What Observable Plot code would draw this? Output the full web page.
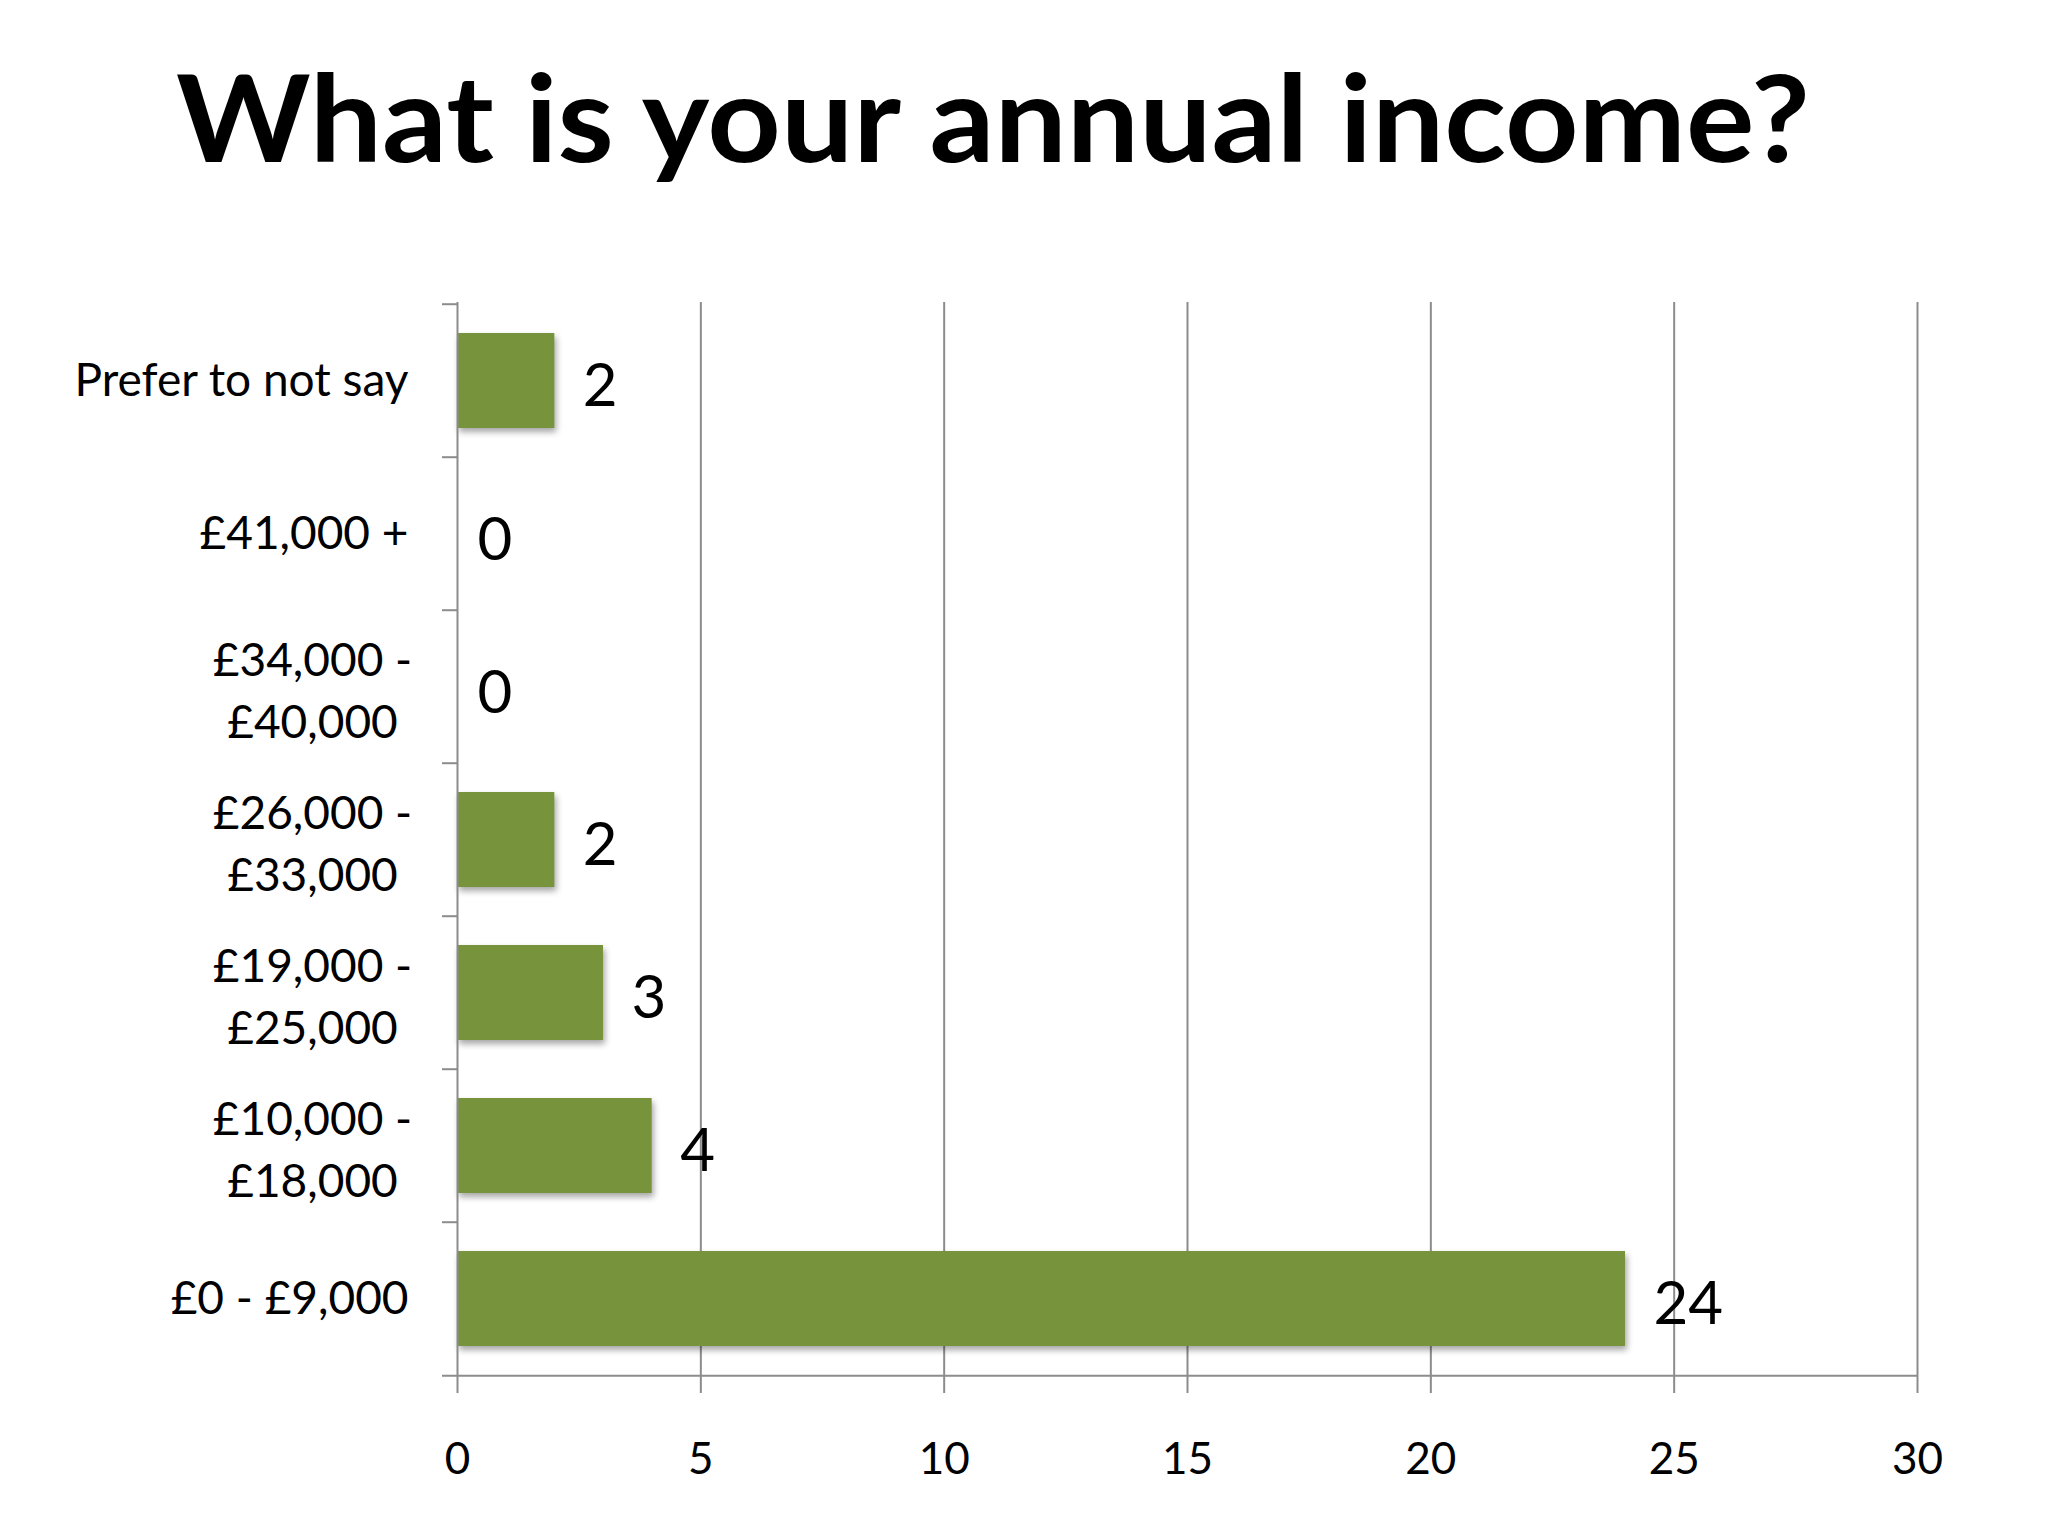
<!DOCTYPE html>
<html>
<head>
<meta charset="utf-8">
<script src="https://cdn.jsdelivr.net/npm/d3@7"></script>
<script src="https://cdn.jsdelivr.net/npm/@observablehq/plot@0.6"></script>
<style>
  html, body { margin: 0; padding: 0; background: #ffffff; }
  body { width: 2048px; height: 1536px; overflow: hidden; position: relative; font-family: Lato, sans-serif; }
  #title { position: absolute; top: 55px; left: 993px; white-space: nowrap;
           font: bold 121px/1 Lato, sans-serif; color: #000; transform-origin: center top; }
  #chart { position: absolute; top: 230px; left: 0; }
</style>
</head>
<body>
<div id="title">What is your annual income?</div>
<div id="chart"></div>
<script>
// ---- data ----
const titleText = "What is your annual income?";
const categories = [
  "Prefer to not say",
  "£41,000 +",
  "£34,000 -\n£40,000",
  "£26,000 -\n£33,000",
  "£19,000 -\n£25,000",
  "£10,000 -\n£18,000",
  "£0 - £9,000"
];
const counts = [2, 0, 0, 2, 3, 4, 24];
const xTicks = [0, 5, 10, 15, 20, 25, 30];
const xDomain = [0, 30];

// ---- title sizing ----
const titleEl = document.getElementById("title");
titleEl.textContent = titleText;
const ctx = document.createElement("canvas").getContext("2d");
ctx.font = "bold 121px Lato";
const tw = ctx.measureText(titleText).width;
const k = 1640 / tw;
titleEl.style.transform = `translateX(-50%) scaleX(${k})`;

// ---- chart ----
const rows = categories.map((c, i) => ({category: c, count: counts[i]}));
const W = 2048, H = 1306, mt = 72, mb = 159, ml = 457, mr = 131;
const bw = (H - mt - mb) / categories.length;
const gray = "#8c8c8c";
const green = "#77933c";

const chart = Plot.plot({
  width: W, height: H,
  marginTop: mt, marginBottom: mb, marginLeft: ml, marginRight: mr,
  style: {fontFamily: "Lato, sans-serif", background: "white", color: "black"},
  x: {domain: xDomain, axis: null, label: null},
  y: {domain: categories, padding: 0, axis: null, label: null},
  marks: [
    Plot.ruleX(xTicks.filter(d => d > 0), {stroke: gray, strokeWidth: 2}),
    Plot.axisX({ticks: xTicks, tickSize: 16, tickPadding: 49, fontSize: 44, label: null,
                stroke: gray, strokeWidth: 2, fill: "black", tickFormat: d => String(d)}),
    Plot.barX(rows, {x: "count", y: "category", fill: green, insetTop: 29, insetBottom: 29}),
    Plot.ruleX([0], {stroke: gray, strokeWidth: 2}),
    Plot.ruleY(categories, {y: d => d, x1: 0, x2: 0, dy: -bw / 2, insetLeft: -15, stroke: gray, strokeWidth: 2}),
    Plot.ruleY([categories[categories.length - 1]], {y: d => d, dy: bw / 2, insetLeft: -15, stroke: gray, strokeWidth: 2}),
    Plot.text(categories.filter(c => !c.includes("\n")), {y: d => d, text: d => d, frameAnchor: "left",
                textAnchor: "end", dx: -49, fontSize: 46, fill: "black"}),
    Plot.text(categories.filter(c => c.includes("\n")), {y: d => d, text: d => d, frameAnchor: "left",
                textAnchor: "middle", dx: -145, fontSize: 46, lineHeight: 1.35, fill: "black"}),
    Plot.text(rows.filter(r => r.count > 0), {x: "count", y: "category", text: d => String(d.count),
                textAnchor: "start", dx: 28, dy: 6, fontSize: 60, fill: "black"}),
    Plot.text(rows.filter(r => r.count === 0), {x: "count", y: "category", text: d => String(d.count),
                textAnchor: "start", dx: 20, dy: 7, fontSize: 60, fill: "black"})
  ]
});
document.getElementById("chart").appendChild(chart);
const barG = chart.querySelector('g[aria-label="bar"]');
if (barG) barG.style.filter = "drop-shadow(2px 4px 3px rgba(0,0,0,0.35))";
</script>
</body>
</html>
